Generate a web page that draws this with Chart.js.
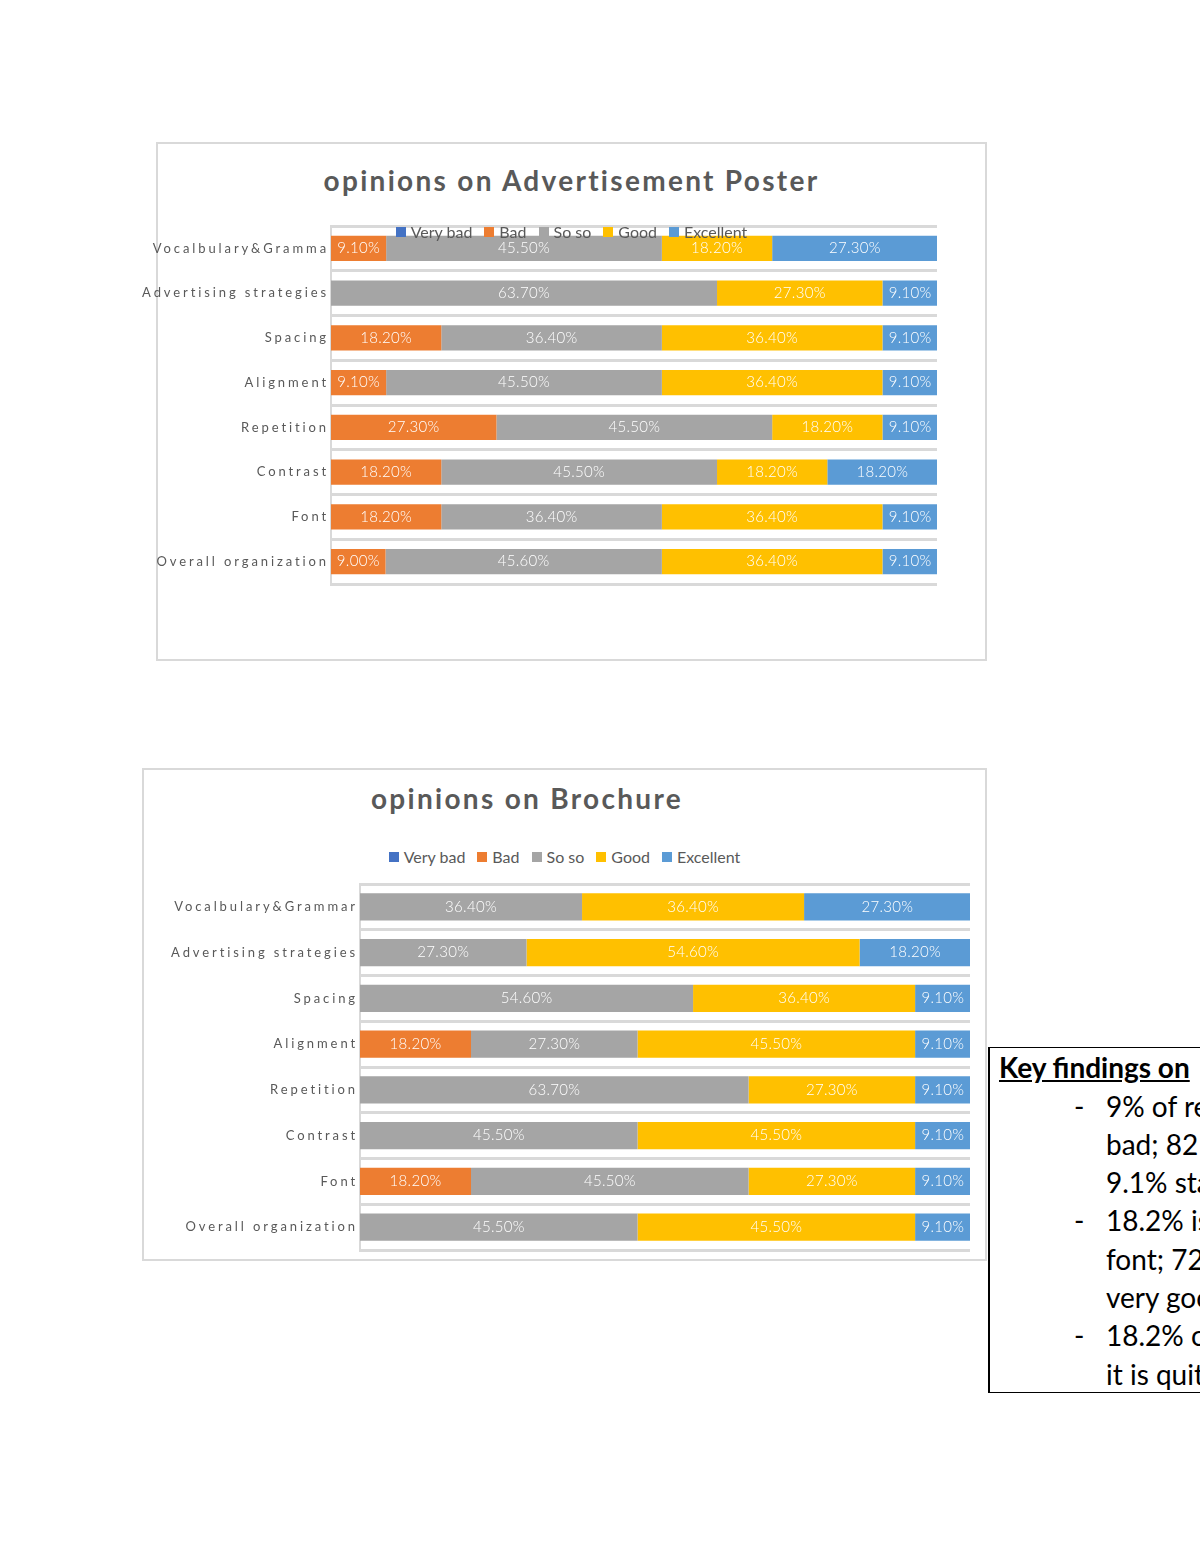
<!DOCTYPE html>
<html>
<head>
<meta charset="utf-8">
<script src="https://cdn.jsdelivr.net/npm/chart.js@4.4.0/dist/chart.umd.min.js"></script>
<style>
  body { margin: 0; width: 1200px; height: 1553px; overflow: hidden; background: #fff; position: relative; font-family: Lato, "Noto Sans", sans-serif; }
  .moldura { position: absolute; box-sizing: border-box; border: 2px solid #d9d9d9; }
  .area { position: absolute; }
  .titulo { position: absolute; text-align: center; font-weight: bold; font-size: 28px; letter-spacing: 2.3px; color: #595959; }
  .legenda { position: absolute; display: flex; justify-content: center; font-size: 16px; color: #595959; }
  .legenda span { display: inline-flex; align-items: center; margin: 0 6px; }
  .legenda i { display: inline-block; width: 10px; height: 10px; margin-right: 5px; }
  .caixa { position: absolute; left: 988px; top: 1047px; width: 260px; height: 346px; box-sizing: border-box; border: 1px solid #000; border-left-width: 2px; font-size: 28px; color: #000; }
  .caixa div { position: absolute; white-space: nowrap; }
</style>
</head>
<body>

<div class="moldura" style="left:156px;top:142px;width:831px;height:519px"></div>
<div class="titulo" style="left:156px;top:163px;width:831px">opinions on Advertisement Poster</div>
<div class="area" style="left:136px;top:142px;width:851px;height:519px"><canvas id="graficoPoster"></canvas></div>
<div class="legenda" id="legendaPoster" style="left:156px;top:222px;width:831px"></div>

<div class="moldura" style="left:142px;top:768px;width:845px;height:493px"></div>
<div class="titulo" style="left:142px;top:781px;width:770px">opinions on Brochure</div>
<div class="legenda" id="legendaBrochura" style="left:142px;top:847px;width:845px"></div>
<div class="area" style="left:142px;top:768px;width:845px;height:493px"><canvas id="graficoBrochura"></canvas></div>

<div class="caixa">
  <div style="left:9px;top:2px;font-weight:bold;text-decoration:underline">Key findings on</div>
  <div style="left:84px;top:41px">-</div><div style="left:116px;top:41px">9% of re</div>
  <div style="left:116px;top:79px">bad; 82</div>
  <div style="left:116px;top:117px">9.1% sta</div>
  <div style="left:84px;top:155px">-</div><div style="left:116px;top:155px">18.2% is</div>
  <div style="left:116px;top:194px">font; 72</div>
  <div style="left:116px;top:232px">very goo</div>
  <div style="left:84px;top:270px">-</div><div style="left:116px;top:270px">18.2% o</div>
  <div style="left:116px;top:309px">it is quit</div>
</div>

<script>
// Nomes das séries e cores (padrão Office)
const series = ['Very bad', 'Bad', 'So so', 'Good', 'Excellent'];
const cores = ['#4472C4', '#ED7D31', '#A5A5A5', '#FFC000', '#5B9BD5'];

// Dados do pôster
const categoriasPoster = ['Vocalbulary&Gramma', 'Advertising strategies', 'Spacing', 'Alignment', 'Repetition', 'Contrast', 'Font', 'Overall organization'];
const posterMuitoRuim = [0, 0, 0, 0, 0, 0, 0, 0];
const posterRuim = [9.1, 0, 18.2, 9.1, 27.3, 18.2, 18.2, 9.0];
const posterMaisOuMenos = [45.5, 63.7, 36.4, 45.5, 45.5, 45.5, 36.4, 45.6];
const posterBom = [18.2, 27.3, 36.4, 36.4, 18.2, 18.2, 36.4, 36.4];
const posterExcelente = [27.3, 9.1, 9.1, 9.1, 9.1, 18.2, 9.1, 9.1];

// Dados da brochura
const categoriasBrochura = ['Vocalbulary&Grammar', 'Advertising strategies', 'Spacing', 'Alignment', 'Repetition', 'Contrast', 'Font', 'Overall organization'];
const brochuraMuitoRuim = [0, 0, 0, 0, 0, 0, 0, 0];
const brochuraRuim = [0, 0, 0, 18.2, 0, 0, 18.2, 0];
const brochuraMaisOuMenos = [36.4, 27.3, 54.6, 27.3, 63.7, 45.5, 45.5, 45.5];
const brochuraBom = [36.4, 54.6, 36.4, 45.5, 27.3, 45.5, 27.3, 45.5];
const brochuraExcelente = [27.3, 18.2, 9.1, 9.1, 9.1, 9.1, 9.1, 9.1];

// Escreve os rótulos de porcentagem no meio de cada segmento
const rotulosBarras = {
  id: 'rotulosBarras',
  beforeDraw(chart) {
    chart.ctx.letterSpacing = '2.9px';   // espaçamento dos nomes das categorias
  },
  beforeDatasetsDraw(chart) {
    chart.ctx.letterSpacing = '0px';
  },
  afterDatasetsDraw(chart) {
    const ctx = chart.ctx;
    ctx.save();
    ctx.letterSpacing = '0.3px';
    ctx.fillStyle = '#fff';
    ctx.font = '300 15px Lato, sans-serif';
    ctx.textAlign = 'center';
    ctx.textBaseline = 'middle';
    chart.data.datasets.forEach((ds, i) => {
      chart.getDatasetMeta(i).data.forEach((barra, j) => {
        const valor = ds.data[j];
        if (!valor) return;
        const { x, base, y } = barra.getProps(['x', 'base', 'y'], true);
        ctx.fillText(valor.toFixed(2) + '%', (x + base) / 2, y);
      });
    });
    ctx.restore();
  }
};

function montarLegenda(id) {
  const el = document.getElementById(id);
  series.forEach((nome, i) => {
    const item = document.createElement('span');
    item.innerHTML = '<i style="background:' + cores[i] + '"></i>' + nome;
    el.appendChild(item);
  });
}

function montarGrafico(id, categorias, valores, cfg) {
  new Chart(document.getElementById(id), {
    type: 'bar',
    data: {
      labels: categorias,
      datasets: valores.map((dados, i) => ({
        label: series[i],
        data: dados,
        backgroundColor: cores[i],
        borderWidth: 0,
        categoryPercentage: 1,
        barPercentage: cfg.barra
      }))
    },
    options: {
      indexAxis: 'y',
      responsive: true,
      maintainAspectRatio: false,
      animation: false,
      layout: { padding: cfg.padding },
      plugins: {
        legend: { display: false },
        title: { display: false },
        tooltip: { enabled: false }
      },
      scales: {
        x: { stacked: true, min: 0, max: 100, display: false },
        y: {
          stacked: true,
          afterFit: scale => { scale.width = cfg.larguraEixo; },
          border: { display: true, color: '#d9d9d9', width: 2 },
          grid: { color: '#d9d9d9', lineWidth: 3, drawTicks: false, offset: true },
          ticks: {
            padding: 2,
            color: '#595959',
            font: { family: 'Lato, sans-serif', size: 13 }
          }
        }
      }
    },
    plugins: [rotulosBarras]
  });
}

window.addEventListener('DOMContentLoaded', () => {
  montarLegenda('legendaPoster');
  montarLegenda('legendaBrochura');

  montarGrafico('graficoPoster', categoriasPoster,
    [posterMuitoRuim, posterRuim, posterMaisOuMenos, posterBom, posterExcelente],
    { barra: 0.56, larguraEixo: 195, padding: { top: 84, bottom: 77, left: 0, right: 50 } });

  montarGrafico('graficoBrochura', categoriasBrochura,
    [brochuraMuitoRuim, brochuraRuim, brochuraMaisOuMenos, brochuraBom, brochuraExcelente],
    { barra: 0.6, larguraEixo: 218, padding: { top: 116, bottom: 11, left: 0, right: 17 } });
});
</script>
</body>
</html>
